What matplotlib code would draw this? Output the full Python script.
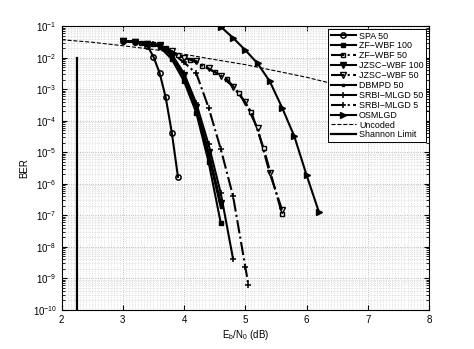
import numpy as np
import matplotlib
matplotlib.use('Agg')
import matplotlib.pyplot as plt
from matplotlib.ticker import LogLocator, MultipleLocator, NullFormatter

# valeurs (log10 du BER)
x_spa = [3.0, 3.2, 3.4, 3.5, 3.6, 3.7, 3.8, 3.9]
ber_spa = [-1.47, -1.50, -1.62, -1.97, -2.48, -3.26, -4.38, -5.78]

x_zf100 = [3.0, 3.2, 3.4, 3.6, 3.8, 4.0, 4.2, 4.4, 4.6]
ber_zf100 = [-1.47, -1.50, -1.55, -1.65, -2.05, -2.75, -3.75, -5.3, -7.25]

x_zf50 = [3.0, 3.3, 3.5, 3.7, 3.9, 4.1, 4.3, 4.5, 4.7, 4.9, 5.1, 5.3, 5.6]
ber_zf50 = [-1.47, -1.52, -1.58, -1.70, -1.93, -2.06, -2.26, -2.45, -2.68,
            -3.13, -3.73, -4.88, -6.95]

x_jz100 = [3.0, 3.2, 3.4, 3.6, 3.8, 4.0, 4.2, 4.4, 4.6]
ber_jz100 = [-1.47, -1.50, -1.55, -1.60, -1.95, -2.55, -3.55, -5.0, -6.6]

x_jz50 = [3.0, 3.2, 3.4, 3.6, 3.8, 4.0, 4.2, 4.4, 4.6, 4.8, 5.0, 5.2, 5.4, 5.6]
ber_jz50 = [-1.47, -1.50, -1.56, -1.63, -1.80, -2.00, -2.11, -2.34, -2.57,
            -2.92, -3.42, -4.24, -5.67, -6.82]

x_dbmpd = [3.6, 3.7, 3.8, 4.0, 4.2, 4.4, 4.6]
ber_dbmpd = [-1.60, -1.70, -1.97, -2.62, -3.62, -5.1, -6.75]

x_srbi50 = [3.5, 3.6, 3.7, 3.8, 4.0, 4.2, 4.4, 4.6, 4.8]
ber_srbi50 = [-1.55, -1.60, -1.72, -1.90, -2.50, -3.45, -4.75, -6.3, -8.38]

x_srbi5 = [3.6, 3.7, 3.8, 4.0, 4.2, 4.4, 4.6, 4.8, 5.0, 5.05]
ber_srbi5 = [-1.62, -1.72, -1.85, -2.15, -2.50, -3.58, -4.90, -6.39, -8.63, -9.2]

x_osm = [4.6, 4.8, 5.0, 5.2, 5.4, 5.6, 5.8, 6.0, 6.2]
ber_osm = [-1.02, -1.37, -1.76, -2.18, -2.75, -3.58, -4.49, -5.72, -6.88]

x_unc = [2.0, 2.5, 3.0, 3.5, 4.0, 4.5, 5.0, 5.5, 6.0, 6.5, 7.0, 7.5, 8.0]
ber_unc = [-1.43, -1.51, -1.62, -1.74, -1.89, -2.06, -2.22, -2.42, -2.62,
           -2.86, -3.11, -3.39, -3.71]

x_shannon = [2.25, 2.25]
ber_shannon = [-10, -2]

legende = ['SPA 50', 'ZF\u2212WBF 100', 'ZF\u2212WBF 50', 'JZSC\u2212WBF 100',
           'JZSC\u2212WBF 50', 'DBMPD 50', 'SRBI\u2212MLGD 50', 'SRBI\u2212MLGD 5',
           'OSMLGD', 'Uncoded', 'Shannon Limit']


def p(v):
    return 10.0 ** np.array(v)


plt.rcParams['font.family'] = ['Liberation Sans', 'DejaVu Sans']
plt.rcParams['mathtext.fontset'] = 'custom'
plt.rcParams['mathtext.rm'] = 'Liberation Sans'
plt.rcParams['mathtext.it'] = 'Liberation Sans'
fig = plt.figure(figsize=(4.74, 3.49), dpi=100)
ax = fig.add_axes([0.13, 0.112, 0.775, 0.813])

k = 'k'
lw = 1.5
ms = 3.8
ax.semilogy(x_spa, p(ber_spa), '-o', color=k, lw=lw, ms=ms, mfc='none', mew=1.1, label=legende[0])
ax.semilogy(x_zf100, p(ber_zf100), '-s', color=k, lw=lw, ms=ms - 0.4, label=legende[1])
ax.semilogy(x_zf50, p(ber_zf50), '-.s', color=k, lw=lw, ms=ms - 0.4, mfc='none', mew=1.0, label=legende[2])
ax.semilogy(x_jz100, p(ber_jz100), '-v', color=k, lw=lw, ms=ms + 0.6, label=legende[3])
ax.semilogy(x_jz50, p(ber_jz50), '-.v', color=k, lw=lw, ms=ms + 0.6, mfc='none', mew=1.0, label=legende[4])
ax.semilogy(x_dbmpd, p(ber_dbmpd), '-s', color=k, lw=lw, ms=2.0, label=legende[5])
ax.semilogy(x_srbi50, p(ber_srbi50), '-+', color=k, lw=lw, ms=ms + 0.6, mew=1.1, label=legende[6])
ax.semilogy(x_srbi5, p(ber_srbi5), '-.+', color=k, lw=lw, ms=ms + 0.6, mew=1.1, label=legende[7])
ax.semilogy(x_osm, p(ber_osm), '->', color=k, lw=lw, ms=ms + 0.8, label=legende[8])
ax.semilogy(x_unc, p(ber_unc), '--', color=k, lw=0.8, label=legende[9])
ax.semilogy(x_shannon, p(ber_shannon), '-', color=k, lw=1.6, label=legende[10])

ax.set_xlim(2, 8)
ax.set_ylim(1e-10, 1e-1)
ax.xaxis.set_major_locator(MultipleLocator(1))
ax.xaxis.set_minor_locator(MultipleLocator(0.05))
ax.yaxis.set_major_locator(LogLocator(base=10, numticks=20))
ax.yaxis.set_minor_locator(LogLocator(base=10, subs=np.arange(2, 10), numticks=20))
ax.yaxis.set_minor_formatter(NullFormatter())
ax.grid(True, which='major', ls=':', color='#aaaaaa', lw=0.6)
ax.grid(True, which='minor', ls=':', color='#cccccc', lw=0.5)
ax.tick_params(which='both', direction='in', top=True, right=True, labelsize=7)
ax.tick_params(which='minor', length=2)
ax.tick_params(axis='x', which='minor', length=0)
for s in ax.spines.values():
    s.set_linewidth(0.8)

ax.set_xlabel('E$_b$/N$_0$ (dB)', fontsize=7, labelpad=2)
ax.set_ylabel('BER', fontsize=7, labelpad=2)

leg = ax.legend(loc='upper right', fontsize=6.4, fancybox=False, framealpha=1,
                edgecolor='k', handlelength=2.8, labelspacing=0.1,
                borderaxespad=0.3, borderpad=0.3, handletextpad=0.35)
leg.get_frame().set_linewidth(0.7)

fig.savefig('out.png', dpi=100)
